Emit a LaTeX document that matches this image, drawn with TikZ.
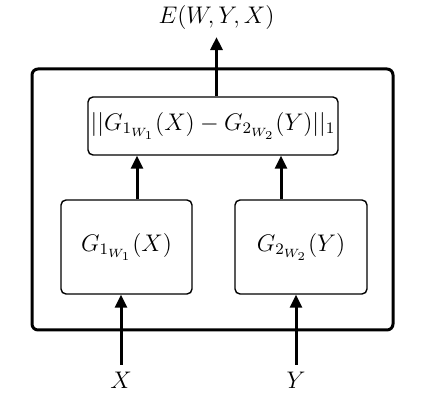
\documentclass[tikz,border=0pt]{standalone}
\usepackage{amsmath}
\usepackage{tikz}
\usetikzlibrary{arrows.meta,positioning}

\begin{document}
\begin{tikzpicture}[x=0.5pt, y=-0.5pt, font=\fontsize{11.5}{13}\selectfont,
  block/.style={draw, rounded corners=2.5pt, line width=0.7pt, inner sep=0pt},
  frame/.style={draw, rounded corners=3pt, line width=1.5pt, inner sep=0pt},
  arr/.style={-{Triangle[length=6.5pt,width=6pt]}, line width=1.5pt}]
\useasboundingbox (0,0) rectangle (429,400);
\node[frame, minimum width=180.5pt, minimum height=130.5pt] (net) at (212.5,199.5) {};
\node[block, minimum width=125pt, minimum height=29pt] (diff) at (213,126) {$||G_{1_{W_1}}(X)-G_{2_{W_2}}(Y)||_1$};
\node[block, minimum width=65.5pt, minimum height=47pt] (g1) at (126.5,247) {$G_{1_{W_1}}(X)$};
\node[block, minimum width=66pt, minimum height=47pt] (g2) at (301,247) {$G_{2_{W_2}}(Y)$};
\node (E) at (216.5,18) {$E(W,Y,X)$};
\node (X) at (121,380) {$X$};
\node (Y) at (296,380) {$Y$};
\coordinate (l) at (137,0);
\coordinate (r) at (281,0);
\draw[arr] (E |- diff.north) -- (E.south);
\draw[arr] (l |- g1.north) -- (l |- diff.south);
\draw[arr] (r |- g2.north) -- (r |- diff.south);
\draw[arr] (X.north) -- (X |- g1.south);
\draw[arr] (Y.north) -- (Y |- g2.south);
\end{tikzpicture}
\end{document}
